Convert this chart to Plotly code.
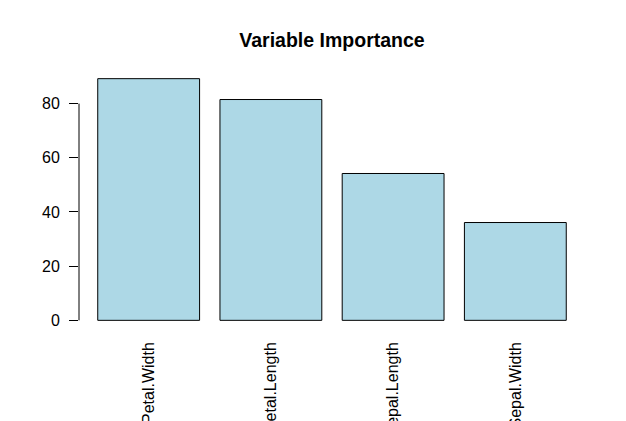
import plotly.graph_objects as go

variables = ["Petal.Width", "Petal.Length", "Sepal.Length", "Sepal.Width"]
importance = [89.2, 81.5, 54.2, 36.1]
y_ticks = [0, 20, 40, 60, 80]
title_text = "Variable Importance"

FONT = "Liberation Sans, Arial, sans-serif"

fig = go.Figure()
fig.add_trace(go.Bar(
    x=variables,
    y=importance,
    marker=dict(color="#ADD8E6", line=dict(color="black", width=1)),
    hoverinfo="x+y",
))

# R-style axis line spanning only first to last tick
fig.add_shape(type="line", xref="paper", yref="y",
              x0=0, x1=0, y0=min(y_ticks), y1=max(y_ticks),
              line=dict(color="black", width=1))

ymax = max(importance)
pad = 0.04 * ymax

# page body has an 8px default margin; compensate in the figure margins
fig.update_layout(
    width=626, height=421,
    margin=dict(l=71, r=49, t=61, b=99, autoexpand=False),
    paper_bgcolor="white", plot_bgcolor="white",
    bargap=0.2 / 1.2,
    showlegend=False,
    font=dict(family=FONT, size=16, color="black"),
    title=dict(text="<b>" + title_text + "</b>", x=0.5, xref="paper",
               y=1 - 32 / 421, yref="container", yanchor="middle",
               xanchor="center",
               font=dict(family=FONT, size=19.5, color="black")),
    xaxis=dict(
        type="category",
        range=[-0.57, 3.57],
        showgrid=False, zeroline=False, showline=False,
        ticks="", tickangle=-90, automargin=False,
        ticklabelstandoff=8,
        tickfont=dict(family=FONT, size=16, color="black"),
        fixedrange=True,
    ),
    yaxis=dict(
        range=[-pad, ymax + pad],
        tickvals=y_ticks,
        ticktext=[str(v) for v in y_ticks],
        showgrid=False, zeroline=False, showline=False,
        ticks="outside", ticklen=9, tickwidth=1, tickcolor="black",
        automargin=False,
        ticklabelstandoff=6,
        tickfont=dict(family=FONT, size=16, color="black"),
        fixedrange=True,
    ),
)

fig.write_html("out.html")
